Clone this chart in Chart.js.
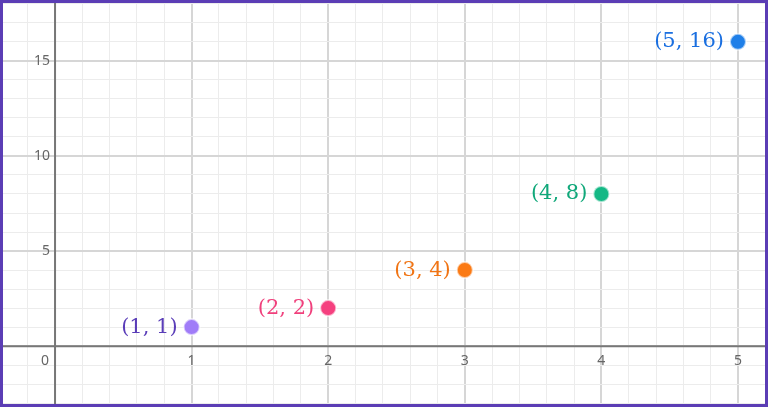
<!DOCTYPE html><html><head><style>html,body{margin:0;padding:0;background:#fff;overflow:hidden}#o{width:768px;height:407px;position:relative;overflow:hidden}#w{width:788px;height:427px;position:absolute;left:-10px;top:-10px}#b{position:absolute;left:0;top:0;width:762px;height:401px;border:3px solid #5b3db5;pointer-events:none}</style>
<script src="https://cdn.jsdelivr.net/npm/chart.js@4"></script></head><body><div id="o"><div id="w"><canvas id="c"></canvas></div><div id="b"></div></div>
<script>
const xs=[1,2,3,4,5];
const ys=[1,2,4,8,16];
const labels=['(1, 1)','(2, 2)','(3, 4)','(4, 8)','(5, 16)'];
const pointColors=['#a07cf8','#f5407f','#fb7a14','#14b885','#1f7fe8'];
const labelColors=['#5a3db8','#f0407c','#f07414','#10a87a','#1a6fe0'];
const xTicks=[0,1,2,3,4,5];
const yTicks=[5,10,15];
const plug={id:'p',afterDraw(ch){const c=ch.ctx,x=ch.scales.x,y=ch.scales.y;c.save();
const a=ch.chartArea;
c.strokeStyle='#777';c.lineWidth=2;c.beginPath();c.moveTo(x.getPixelForValue(0),0);c.lineTo(x.getPixelForValue(0),ch.height);c.moveTo(0,y.getPixelForValue(0));c.lineTo(ch.width,y.getPixelForValue(0));c.stroke();
c.fillStyle='#666';c.font='14px "Noto Sans"';c.textBaseline='middle';
c.textAlign='center';xTicks.forEach(v=>{if(v)c.fillText(v,x.getPixelForValue(v),y.getPixelForValue(0)+15)});
c.textAlign='right';yTicks.forEach(v=>c.fillText(v,x.getPixelForValue(0)-5,y.getPixelForValue(v)));
c.fillText('0',x.getPixelForValue(0)-6,y.getPixelForValue(0)+15);
c.font='21px "DejaVu Serif"';c.textAlign='right';
xs.forEach((v,i)=>{c.fillStyle=labelColors[i];c.fillText(labels[i],x.getPixelForValue(v)-14,y.getPixelForValue(ys[i]))});
c.restore();}};
new Chart(document.getElementById('c'),{type:'scatter',data:{datasets:[{data:xs.map((v,i)=>({x:v,y:ys[i]})),backgroundColor:pointColors,borderColor:'rgba(255,255,255,0.6)',borderWidth:2,pointRadius:8}]},
options:{responsive:true,maintainAspectRatio:false,animation:false,layout:{padding:0},plugins:{legend:{display:false},tooltip:{enabled:false}},
scales:{x:{type:'linear',min:-0.403,max:5.22,display:true,border:{display:false},ticks:{display:false,autoSkip:false},afterBuildTicks(s){s.ticks=[];for(let i=-2;i<=26;i++)s.ticks.push({value:i/5})},grid:{drawTicks:false,color:c=>Math.abs(c.tick.value-Math.round(c.tick.value))<1e-6?'#d6d6d6':'#ececec',lineWidth:c=>Math.abs(c.tick.value-Math.round(c.tick.value))<1e-6?2:1}},
y:{type:'linear',min:-3.2,max:18.2,border:{display:false},ticks:{display:false,autoSkip:false},afterBuildTicks(s){s.ticks=[];for(let i=-3;i<=18;i++)s.ticks.push({value:i})},grid:{drawTicks:false,color:c=>c.tick.value%5===0?'#d6d6d6':'#ececec',lineWidth:c=>c.tick.value%5===0?2:1}}}},plugins:[plug]});
</script></body></html>
